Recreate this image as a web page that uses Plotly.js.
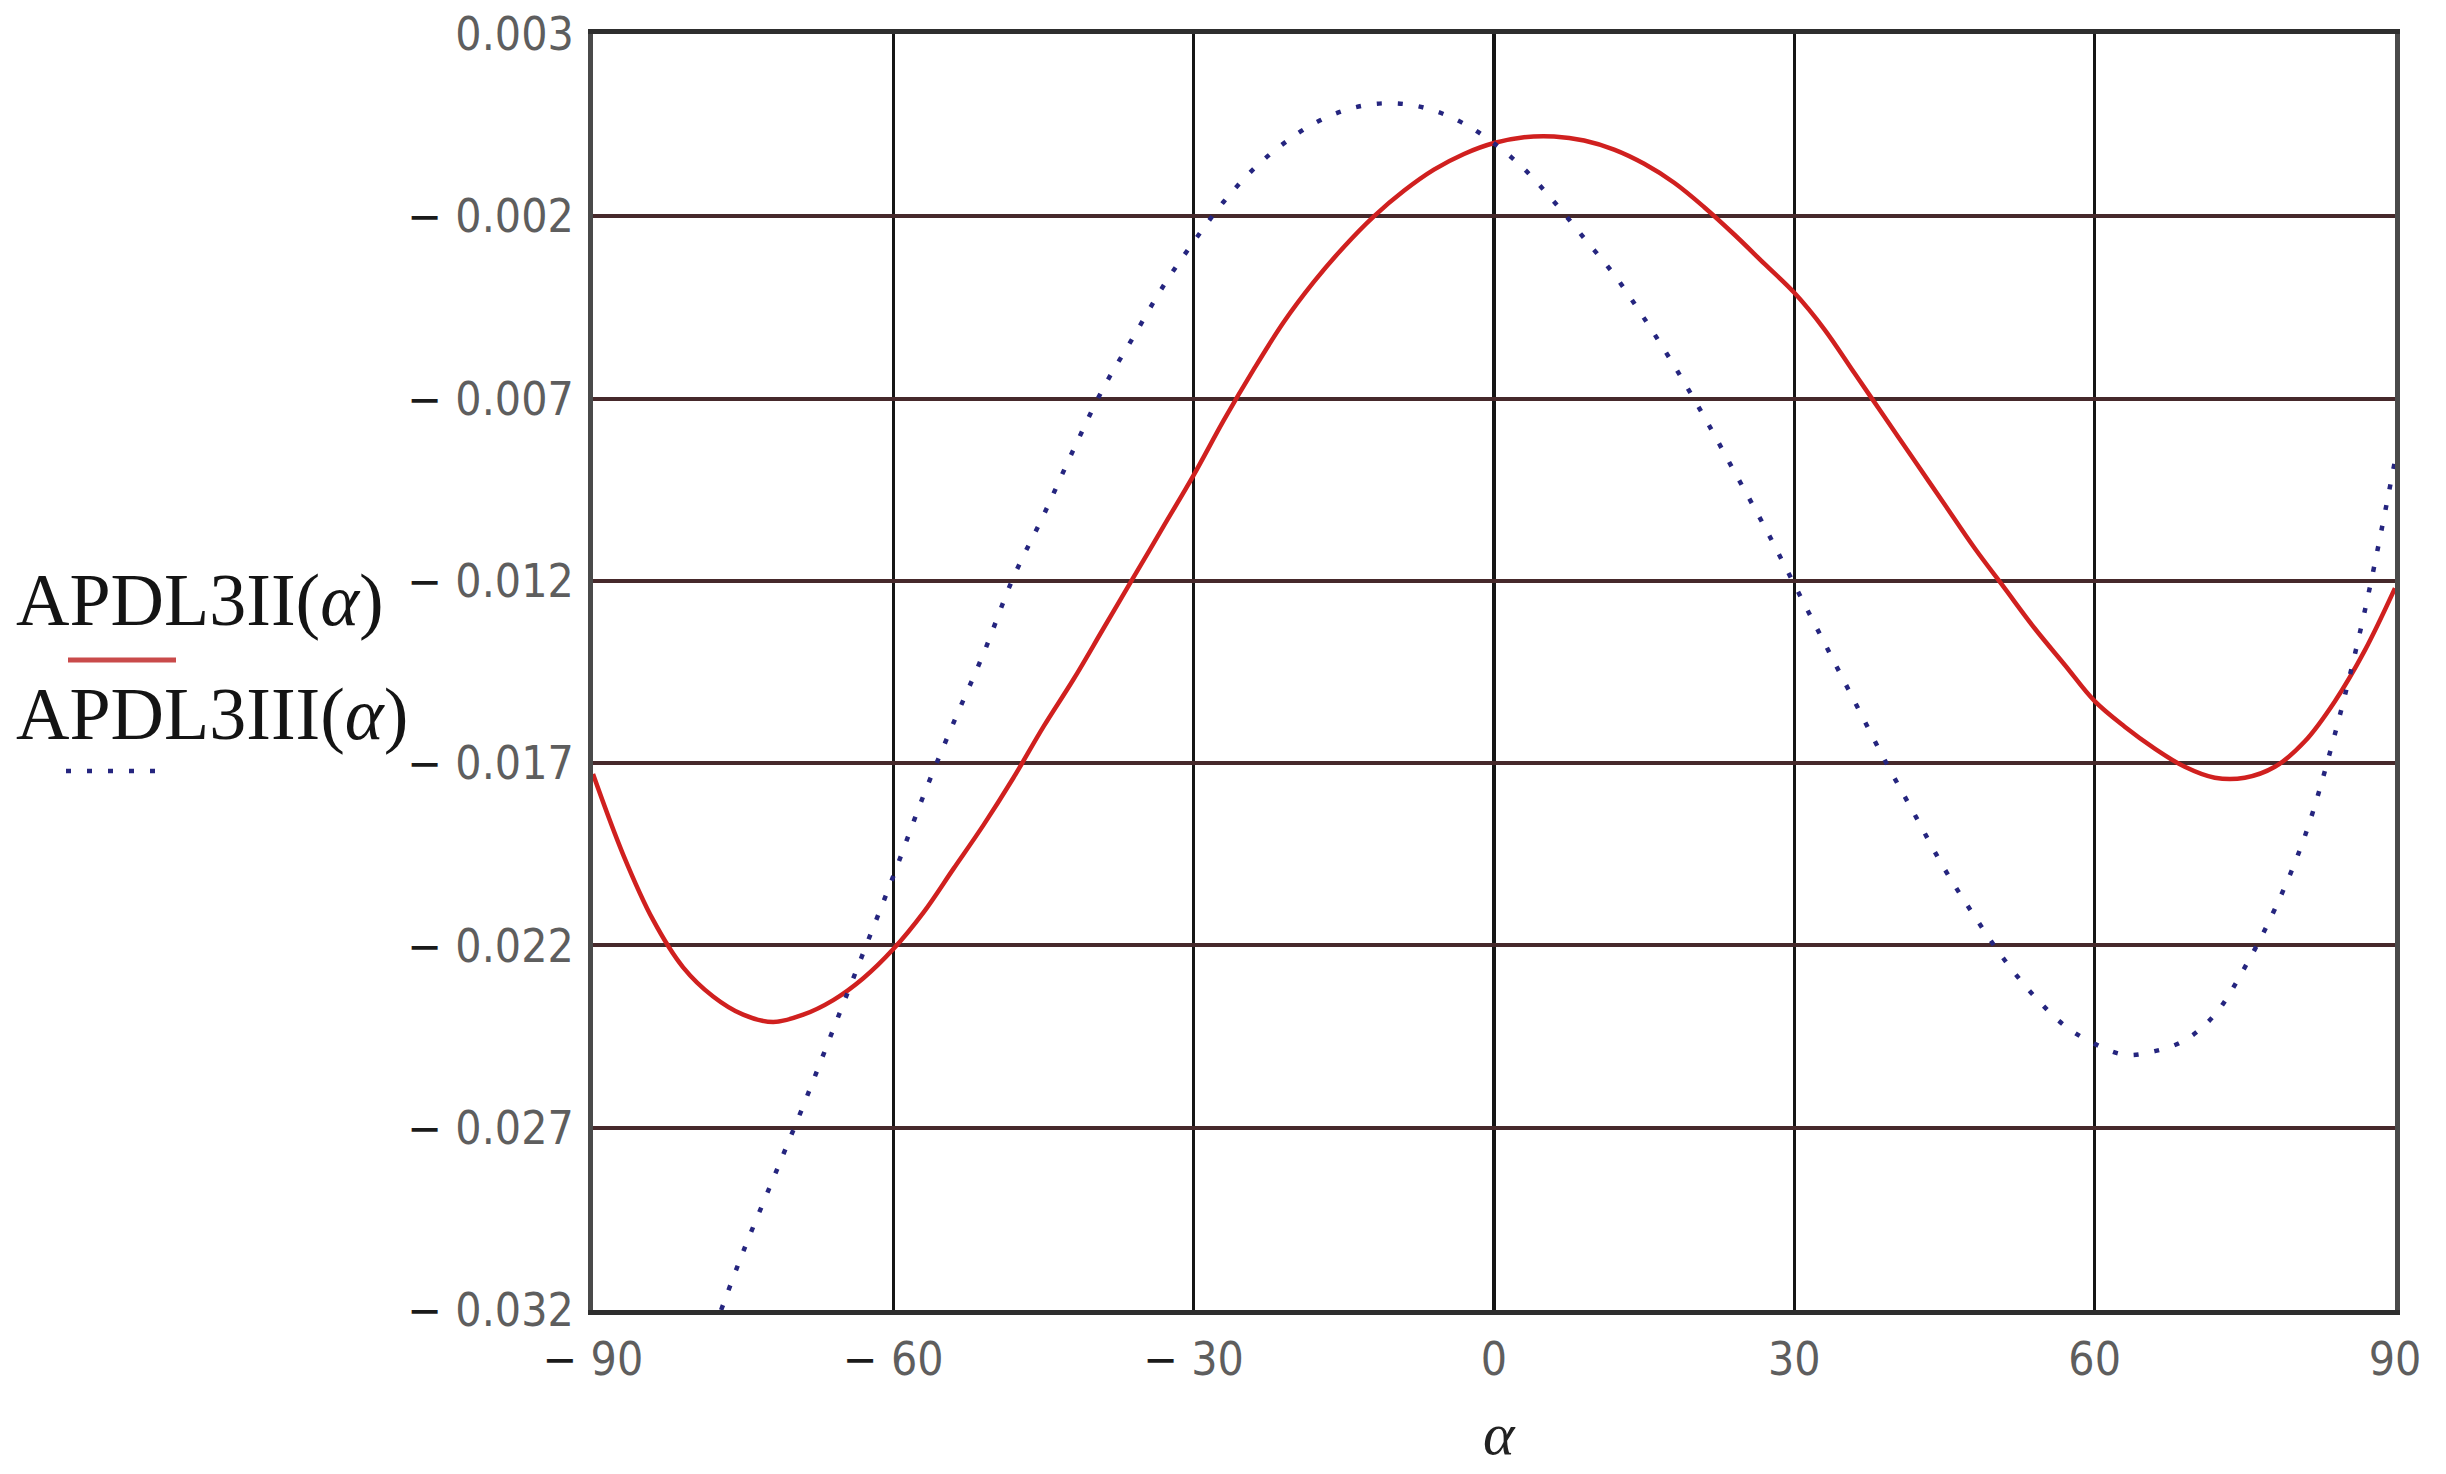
<!DOCTYPE html>
<html>
<head>
<meta charset="utf-8">
<script src="https://cdn.plot.ly/plotly-3.0.1.min.js"></script>
<style>
html,body{margin:0;padding:0;background:#ffffff;}
#chart{width:2446px;height:1474px;}
</style>
</head>
<body>
<div id="chart"></div>
<script>
// ---- data ----
const alphaII = [-90,-87,-84,-81,-78,-75,-72,-69,-66,-63,-60,-57,-54,-51,-48,-45,-42,-39,-36,-33,-30,-27,-24,-21,-18,-15,-12,-9,-6,-3,0,3,6,9,12,15,18,21,24,27,30,33,36,39,42,45,48,51,54,57,60,63,66,69,72,75,78,81,84,87,90];
const apdl3II = [-0.0173,-0.0195,-0.0213,-0.0226,-0.0234,-0.0239,-0.0241,-0.0239,-0.0235,-0.0229,-0.0221,-0.0211,-0.0199,-0.0187,-0.0174,-0.0160,-0.0147,-0.0133,-0.0119,-0.0105,-0.0091,-0.0076,-0.0062,-0.0049,-0.0038,-0.00284,-0.0020,-0.0013,-0.00072,-0.00029,0.00001,0.00017,0.00019,0.00008,-0.00017,-0.00056,-0.00108,-0.00175,-0.0025,-0.0033,-0.0041,-0.0051,-0.0063,-0.0075,-0.0087,-0.0099,-0.0111,-0.0122,-0.0133,-0.0143,-0.0153,-0.0160,-0.0166,-0.0171,-0.0174,-0.0174,-0.0171,-0.0164,-0.0153,-0.0139,-0.0122];

const alphaIII = [-77.2,-75,-72,-69,-66,-63,-60,-57,-54,-51,-48,-45,-42,-39,-36,-33,-30,-27,-24,-21,-18,-15,-12,-9,-6,-3,0,3,6,9,12,15,18,21,24,27,30,33,36,39,42,45,48,51,54,57,60,63,66,69,72,75,78,81,84,87,90];
const apdl3III = [-0.0320,-0.0304,-0.0284,-0.0264,-0.0243,-0.0222,-0.0201,-0.0179,-0.0159,-0.0140,-0.0119,-0.0102,-0.0084,-0.0067,-0.0053,-0.0039,-0.0027,-0.0016,-0.0007,0.0000,0.00054,0.0009,0.00108,0.00108,0.0009,0.00054,0.0000,-0.0007,-0.0016,-0.0026,-0.0036,-0.0048,-0.0061,-0.0075,-0.0090,-0.0105,-0.0121,-0.0137,-0.0153,-0.0169,-0.0184,-0.0199,-0.0212,-0.0224,-0.0234,-0.0242,-0.0247,-0.0250,-0.0249,-0.0246,-0.0239,-0.0226,-0.0210,-0.0190,-0.0162,-0.0128,-0.0087];

const seriesNames = ['APDL3II(<i>α</i>)', 'APDL3III(<i>α</i>)'];
const xTitle = '<i>α</i>';

const xTickVals = [-90,-60,-30,0,30,60,90];
const xTickText = ['<span style="color:#1a1a1a">−</span> 90','<span style="color:#1a1a1a">−</span> 60','<span style="color:#1a1a1a">−</span> 30','0','30','60','90'];
const yTickVals = [0.003,-0.002,-0.007,-0.012,-0.017,-0.022,-0.027,-0.032];
const yTickText = ['0.003','<span style="color:#1a1a1a">−</span> 0.002','<span style="color:#1a1a1a">−</span> 0.007','<span style="color:#1a1a1a">−</span> 0.012','<span style="color:#1a1a1a">−</span> 0.017','<span style="color:#1a1a1a">−</span> 0.022','<span style="color:#1a1a1a">−</span> 0.027','<span style="color:#1a1a1a">−</span> 0.032'];

// ---- layout geometry (pixels) ----
const W = 2446, H = 1474;
const PL = 593, PR = 2395, PT = 34, PB = 1310;
const px2x = p => (p - PL) / (PR - PL);
const px2y = p => (PB - p) / (PB - PT);

const redColor = '#d0201f';
const blueColor = '#25257f';
const blueDash = '5px,16px';
const tickFont = {family: 'Liberation Sans Narrow, DejaVu Sans Condensed, Arial Narrow, sans-serif', size: 46, color: '#5e5e5e'};
const serifFont = {family: 'Liberation Serif, Times New Roman, serif', size: 74, color: '#141414'};

const traces = [
  {x: alphaII, y: apdl3II, type: 'scatter', mode: 'lines', name: seriesNames[0],
   line: {color: redColor, width: 4.5, shape: 'spline', smoothing: 1}},
  {x: alphaIII, y: apdl3III, type: 'scatter', mode: 'lines', name: seriesNames[1],
   line: {color: blueColor, width: 4.5, dash: blueDash, shape: 'spline', smoothing: 1}}
];

const layout = {
  width: W, height: H,
  margin: {l: PL, r: W - PR, t: PT, b: H - PB, pad: 0},
  paper_bgcolor: '#ffffff', plot_bgcolor: '#ffffff',
  showlegend: false,
  xaxis: {
    range: [-90, 90], tickmode: 'array', tickvals: xTickVals, ticktext: xTickText,
    showgrid: true, gridcolor: '#151515', gridwidth: 3.5,
    zeroline: false, showline: true, mirror: true, linecolor: '#2e2e2e', linewidth: 5,
    ticks: '', tickfont: tickFont, ticklabelstandoff: 5, fixedrange: true
  },
  yaxis: {
    range: [-0.032, 0.003], tickmode: 'array', tickvals: yTickVals, ticktext: yTickText,
    showgrid: true, gridcolor: '#46292b', gridwidth: 4,
    zeroline: false, showline: true, mirror: true, linecolor: '#4a4a4a', linewidth: 5,
    ticks: '', tickfont: tickFont, ticklabelstandoff: 5, fixedrange: true
  },
  annotations: [
    {xref: 'paper', yref: 'paper', x: px2x(1499), y: px2y(1434), xanchor: 'center', yanchor: 'middle',
     text: xTitle, showarrow: false, font: {family: serifFont.family, size: 60, color: '#222'}},
    {xref: 'paper', yref: 'paper', x: px2x(14), y: px2y(600), xanchor: 'left', yanchor: 'middle',
     text: seriesNames[0], showarrow: false, font: serifFont},
    {xref: 'paper', yref: 'paper', x: px2x(14), y: px2y(714), xanchor: 'left', yanchor: 'middle',
     text: seriesNames[1], showarrow: false, font: serifFont}
  ],
  shapes: [
    {type: 'line', xref: 'paper', yref: 'paper', x0: px2x(68), x1: px2x(176), y0: px2y(660), y1: px2y(660),
     line: {color: '#c94a4a', width: 5}},
    {type: 'line', xref: 'paper', yref: 'paper', x0: px2x(66), x1: px2x(158), y0: px2y(771), y1: px2y(771),
     line: {color: blueColor, width: 4.5, dash: blueDash}}
  ]
};

Plotly.newPlot('chart', traces, layout, {staticPlot: true, displayModeBar: false});
</script>
</body>
</html>
